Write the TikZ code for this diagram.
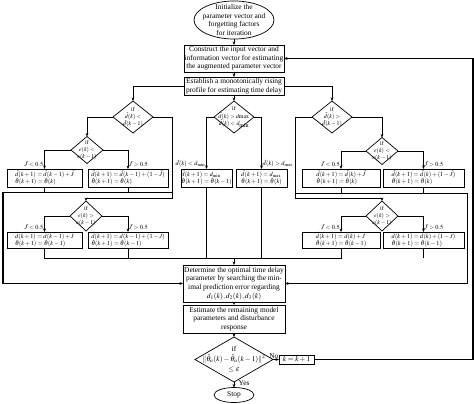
\documentclass[tikz,border=0pt]{standalone}
\usepackage{mathptmx}
\usepackage[no-math]{fontspec}
\setmainfont{Liberation Serif}
\usetikzlibrary{shapes.geometric,arrows.meta}
\begin{document}
\begin{tikzpicture}[x=0.85pt,y=-0.85pt,
 every node/.style={inner sep=0pt, outer sep=0pt},
 wh/.style 2 args={minimum width=#1*0.85pt, minimum height=#2*0.85pt},
 big/.style={font=\fontsize{6.3}{7.4}\selectfont},
 sm/.style={font=\fontsize{5.3}{6.6}\selectfont},
 boxn/.style={draw, rectangle, align=center, big, line width=0.6pt},
 eqbox/.style={draw, rectangle, align=left, sm, line width=0.6pt},
 dia/.style={draw, diamond, line width=0.6pt},
 dtext/.style={font=\fontsize{5}{6.2}\selectfont, align=center},
 con/.style={line width=0.6pt},
 arr/.style={con, -{Stealth[length=3pt,width=2.4pt]}},
 loopline/.style={line width=1.1pt}
]
\useasboundingbox (0,0) rectangle (474,404);

% top column
\node[draw, ellipse, line width=0.6pt, wh={80}{38}] (b1) at (234,20) {};
\node[big, align=center] (b1t) at (b1) {Initialize the\\parameter vector and\\forgetting factors\\for iteration};
\node[boxn, wh={100}{27}] (b2) at (234,58.5) {Construct the input vector and\\information vector for estimating\\the augmented parameter vector};
\node[boxn, wh={100}{18}] (b3) at (234,86) {Establish a monotonically rising\\profile for estimating time delay};

% diamonds
\node[dia, wh={40}{32}] (dL1) at (133,117) {};
\node[dtext] (dL1t) at (dL1) {if\\$\hat d(k)<$\\$\hat d(k-1)$};
\node[dia, wh={32}{27}] (dL2) at (87,150) {};
\node[dtext] (dL2t) at (dL2) {if\\$e(k)<$\\$e(k-1)$};
\node[dia, wh={32}{30}] (dL3) at (86,216) {};
\node[dtext] (dL3t) at (dL3) {if\\$e(k)>$\\$e(k-1)$};
\node[dia, wh={40}{32}] (dM) at (234,117) {};
\node[dtext] (dMt) at (dM) {if\\$\hat d(k)>d_{\max}$\\$\hat d(k)<d_{\min}$};
\node[dia, wh={40}{32}] (dR1) at (332,117) {};
\node[dtext] (dR1t) at (dR1) {if\\$\hat d(k)>$\\$\hat d(k-1)$};
\node[dia, wh={32}{27}] (dR2) at (382,151) {};
\node[dtext] (dR2t) at (dR2) {if\\$e(k)<$\\$e(k-1)$};
\node[dia, wh={32}{30}] (dR3) at (382,216) {};
\node[dtext] (dR3t) at (dR3) {if\\$e(k)>$\\$e(k-1)$};

% equation boxes, upper row
\node[eqbox, wh={75}{18}] (L1) at (44.5,178) {$\hat d(k+1)=\hat d(k-1)+\tilde J$\\$\hat\theta(k+1)=\hat\theta(k)$};
\node[eqbox, wh={80}{18}] (L2) at (128,178) {$\hat d(k+1)=\hat d(k-1)+(1-\tilde J)$\\$\hat\theta(k+1)=\hat\theta(k)$};
\node[eqbox, wh={51}{18}] (M1) at (206.5,178) {$\hat d(k+1)=d_{\min}$\\$\hat\theta(k+1)=\hat\theta(k-1)$};
\node[eqbox, wh={51}{18}] (M2) at (261.5,178) {$\hat d(k+1)=d_{\max}$\\$\hat\theta(k+1)=\hat\theta(k)$};
\node[eqbox, wh={78}{18}] (R1) at (341,178) {$\hat d(k+1)=\hat d(k)+\tilde J$\\$\hat\theta(k+1)=\hat\theta(k)$};
\node[eqbox, wh={81}{18}] (R2) at (423.5,178) {$\hat d(k+1)=\hat d(k)+(1-\tilde J)$\\$\hat\theta(k+1)=\hat\theta(k)$};
% lower row
\node[eqbox, wh={75}{16}] (L3) at (44.5,240) {$\hat d(k+1)=\hat d(k-1)+\tilde J$\\$\hat\theta(k+1)=\hat\theta(k-1)$};
\node[eqbox, wh={80}{16}] (L4) at (128,240) {$\hat d(k+1)=\hat d(k-1)+(1-\tilde J)$\\$\hat\theta(k+1)=\hat\theta(k-1)$};
\node[eqbox, wh={78}{16}] (R3) at (341,240) {$\hat d(k+1)=\hat d(k)+\tilde J$\\$\hat\theta(k+1)=\hat\theta(k-1)$};
\node[eqbox, wh={81}{16}] (R4) at (423.5,240) {$\hat d(k+1)=\hat d(k)+(1-\tilde J)$\\$\hat\theta(k+1)=\hat\theta(k-1)$};

% lower column
\node[boxn, wh={102}{37}] (Det) at (234,283.5) {Determine the optimal time delay\\parameter by searching the min-\\imal prediction error regarding\\$d_1(k),d_2(k),d_3(k)$};
\node[boxn, wh={102}{28}] (Est) at (234,319) {Estimate the remaining model\\parameters and disturbance\\response};
\node[dia, wh={78}{45}] (dF) at (234,359.5) {};
\node[big, align=center] (dFt) at (dF) {if\\[1pt]$\|\hat\theta_a(k)-\hat\theta_a(k-1)\|^2$\\[1pt]$\le\varepsilon$};
\node[draw, rectangle, line width=0.6pt, big, wh={35}{9}] (kb) at (296.5,359.5) {$k=k+1$};
\node[draw, ellipse, line width=0.6pt, wh={40}{15}, big] (stop) at (234,395) {Stop};

% labels
\node[sm, anchor=south east] (lb1) at ([xshift=-1pt,yshift=1.5pt]L1.north) {$\tilde J<0.5$};
\node[sm, anchor=south west] (lb2) at ([xshift=1pt,yshift=1.5pt]L2.north) {$\tilde J>0.5$};
\node[sm, anchor=south east] (lb3) at ([xshift=-1pt,yshift=1.5pt]L3.north) {$\tilde J<0.5$};
\node[sm, anchor=south west] (lb4) at ([xshift=1pt,yshift=1.5pt]L4.north) {$\tilde J>0.5$};
\node[sm, anchor=south east] (lb5) at ([xshift=-1pt,yshift=1.5pt]M1.north) {$\hat d(k)<d_{\min}$};
\node[sm, anchor=south west] (lb6) at ([xshift=1pt,yshift=1.5pt]M2.north) {$\hat d(k)>d_{\max}$};
\node[sm, anchor=south east] (lb7) at ([xshift=-1pt,yshift=1.5pt]R1.north) {$\tilde J<0.5$};
\node[sm, anchor=south west] (lb8) at ([xshift=1pt,yshift=1.5pt]R2.north) {$\tilde J>0.5$};
\node[sm, anchor=south east] (lb9) at ([xshift=-1pt,yshift=1.5pt]R3.north) {$\tilde J<0.5$};
\node[sm, anchor=south west] (lb10) at ([xshift=1pt,yshift=1.5pt]R4.north) {$\tilde J>0.5$};
\node[big, anchor=south east] (no) at ([xshift=-0.5pt,yshift=1pt]kb.west) {No};
\node[big, anchor=north west] (yes) at ([xshift=4pt,yshift=1pt]dF.south) {Yes};

% junction coordinates
\coordinate (cL) at (172,198);
\coordinate (cR) at (295,198);
\coordinate (jL) at (3,192);
\coordinate (jLe) at (172,192);
\coordinate (jR) at (467,193);
\coordinate (jRs) at (295,193);
\coordinate (jB) at (234,258);
\coordinate (cK) at (473,359.5);

% connectors
\draw[arr] (b1.south) -- (b2.north);
\draw[arr] (b2.south) -- (b3.north);
\draw[arr] (b3.west) -| (dL1.north);
\draw[arr] (b3.east) -| (dR1.north);
\draw[arr] (b3.south) -- (dM.north);

\draw[arr] (dL1.west) -| (dL2.north);
\draw[arr] (dL1.east) -| (cL) -| (dL3.north);
\draw[arr] (dL2.west) -| (L1.north);
\draw[arr] (dL2.east) -| (L2.north);
\draw[arr] (dL3.west) -| (L3.north);
\draw[arr] (dL3.east) -| (L4.north);
\draw[arr] (dM.west) -| (M1.north);
\draw[arr] (dM.east) -| (M2.north);
\draw[arr] (dR1.east) -| (dR2.north);
\draw[arr] (dR1.west) -| (cR) -| (dR3.north);
\draw[arr] (dR2.west) -| (R1.north);
\draw[arr] (dR2.east) -| (R2.north);
\draw[arr] (dR3.west) -| (R3.north);
\draw[arr] (dR3.east) -| (R4.north);

\draw[con] (L1.south) -- (L1.south |- jL);
\draw[con] (L2.south) -- (L2.south |- jL);
\draw[con] (jLe) -- (jL);
\draw[arr, loopline] (jL) |- (Det.west);
\draw[con] (R1.south) -- (R1.south |- jR);
\draw[con] (R2.south) -- (R2.south |- jR);
\draw[con] (jRs) -- (jR);
\draw[arr] (jR) |- (Det.east);

\draw[con] (L3.south) |- (jB);
\draw[con] (L4.south) -- (L4.south |- jB);
\draw[con] (M1.south) |- (jB);
\draw[con] (M2.south) |- (jB);
\draw[con] (R3.south) |- (jB);
\draw[con] (R4.south) -- (R4.south |- jB);
\draw[arr] (jB) -- (Det.north);

\draw[arr] (Det.south) -- (Est.north);
\draw[arr] (Est.south) -- (dF.north);
\draw[arr] (dF.east) -- (kb.west);
\draw[arr, line width=0.9pt] (kb.east) -- (cK) |- (b2.east);
\draw[arr] (dF.south) -- (stop.north);
\end{tikzpicture}
\end{document}
